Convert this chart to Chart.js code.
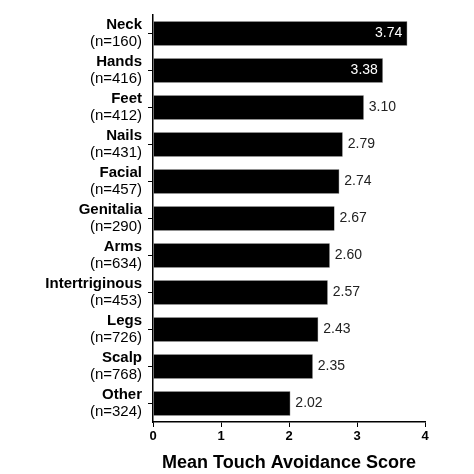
<!DOCTYPE html>
<html>
<head>
<meta charset="utf-8">
<script src="https://cdn.jsdelivr.net/npm/chart.js@4"></script>
<style>
  html, body { margin: 0; padding: 0; background: #fff; }
  #wrap { width: 474px; height: 474px; }
</style>
</head>
<body>
<div id="wrap"><canvas id="chart-touch"></canvas></div>
<script>
const regioes = ['Neck', 'Hands', 'Feet', 'Nails', 'Facial', 'Genitalia', 'Arms', 'Intertriginous', 'Legs', 'Scalp', 'Other'];
const contagens = [160, 416, 412, 431, 457, 290, 634, 453, 726, 768, 324];
const scores = [3.74, 3.38, 3.10, 2.79, 2.74, 2.67, 2.60, 2.57, 2.43, 2.35, 2.02];
const xTicks = [0, 1, 2, 3, 4];
const insideCount = 2; // first two values drawn inside the bar

const FONT = 'Arial, "Liberation Sans", sans-serif';

// labels do eixo Y: nome em negrito + (n=...) normal
const yLabelsPlugin = {
  id: 'yLabels',
  afterDraw(chart) {
    const ctx = chart.ctx;
    const y = chart.scales.y;
    const xRight = y.right - 11;
    ctx.save();
    ctx.fillStyle = '#000';
    ctx.textAlign = 'right';
    ctx.textBaseline = 'middle';
    regioes.forEach((r, i) => {
      const cy = y.getPixelForValue(i);
      ctx.font = 'bold 15px ' + FONT;
      ctx.fillText(r, xRight, cy - 8.5);
      ctx.font = '15px ' + FONT;
      ctx.fillText(`(n=${contagens[i]})`, xRight, cy + 8.5);
    });
    ctx.restore();
  },
};

// valores nas barras
const valueLabelsPlugin = {
  id: 'valueLabels',
  afterDatasetsDraw(chart) {
    const ctx = chart.ctx;
    const meta = chart.getDatasetMeta(0);
    ctx.save();
    ctx.font = '14px ' + FONT;
    ctx.textBaseline = 'middle';
    meta.data.forEach((bar, i) => {
      const txt = scores[i].toFixed(2);
      if (i < insideCount) {
        ctx.fillStyle = '#fff';
        ctx.textAlign = 'right';
        ctx.fillText(txt, bar.x - 5, bar.y);
      } else {
        ctx.fillStyle = '#222';
        ctx.textAlign = 'left';
        ctx.fillText(txt, bar.x + 5, bar.y);
      }
    });
    ctx.restore();
  },
};

new Chart(document.getElementById('chart-touch').getContext('2d'), {
  type: 'bar',
  data: {
    labels: regioes,
    datasets: [{
      data: scores,
      backgroundColor: '#000',
      borderColor: '#333',
      borderWidth: 0.5,
      borderSkipped: false,
      categoryPercentage: 1,
      barPercentage: 0.66,
    }],
  },
  options: {
    indexAxis: 'y',
    responsive: true,
    maintainAspectRatio: false,
    animation: false,
    devicePixelRatio: 1,
    layout: { padding: { top: 15, right: 49, left: 0, bottom: 0 } },
    plugins: { legend: { display: false }, tooltip: { enabled: false } },
    scales: {
      y: {
        afterFit(scale) { scale.width = 153; },
        grid: { display: true, drawOnChartArea: false, offset: false, tickLength: 5, color: '#000', lineWidth: 1 },
        border: { display: true, color: '#000', width: 1.5 },
        ticks: { display: false },
      },
      x: {
        min: 0,
        max: 4,
        afterFit(scale) { scale.height = 52; },
        afterBuildTicks(scale) { scale.ticks = xTicks.map(v => ({ value: v })); },
        grid: { display: true, drawOnChartArea: false, tickLength: 5, color: '#000', lineWidth: 1 },
        border: { display: true, color: '#000', width: 1.5 },
        ticks: { color: '#000', font: { family: FONT, size: 13, weight: 'bold' }, padding: 2, maxRotation: 0 },
        title: {
          display: true,
          text: 'Mean Touch Avoidance Score',
          color: '#000',
          font: { family: FONT, size: 18, weight: 'bold' },
          padding: { top: 4, bottom: 0 },
        },
      },
    },
  },
  plugins: [yLabelsPlugin, valueLabelsPlugin],
});
</script>
</body>
</html>
